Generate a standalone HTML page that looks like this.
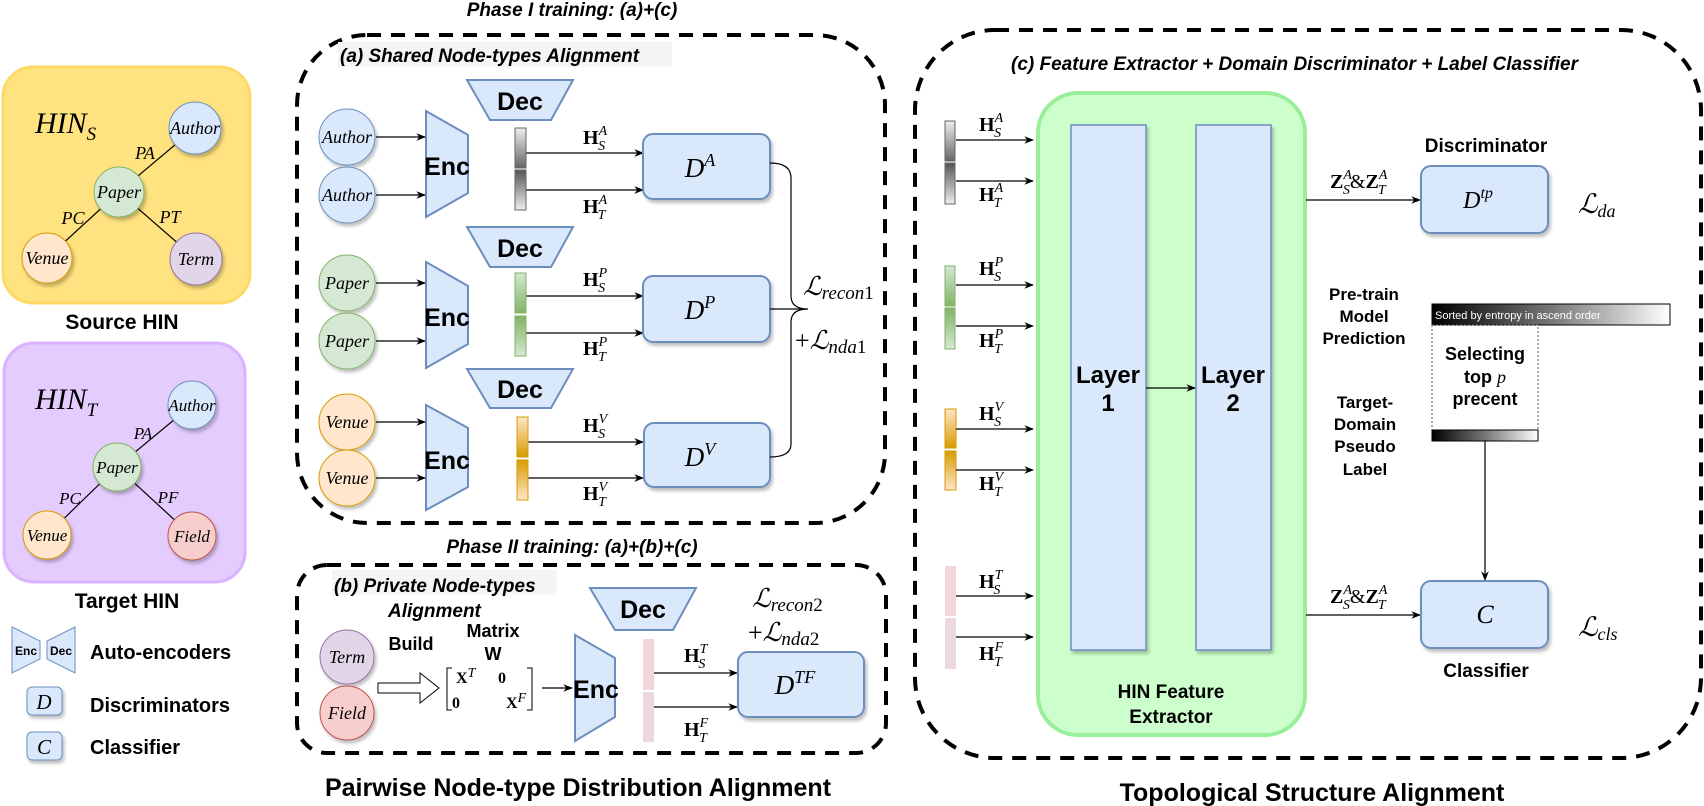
<!DOCTYPE html>
<html><head><meta charset="utf-8"><style>
html,body{margin:0;padding:0;background:#fff;}
svg{display:block;}
.b{font-family:"Liberation Sans",sans-serif;font-weight:bold;}
.bi{font-family:"Liberation Sans",sans-serif;font-weight:bold;font-style:italic;}
.m{font-family:"Liberation Serif",serif;font-style:italic;}
.h{font-family:"Liberation Serif",serif;font-weight:bold;font-size:20px;}
.s{font-family:"Liberation Serif",serif;font-style:italic;font-weight:normal;font-size:14px;}
</style></head><body>
<svg width="1704" height="806" viewBox="0 0 1704 806" xmlns="http://www.w3.org/2000/svg">
<defs>
<marker id="ar" viewBox="0 0 10 10" refX="9" refY="5" markerWidth="8" markerHeight="8" orient="auto"><path d="M0,1 L10,5 L0,9 L3,5 z" fill="#000"/></marker>
<filter id="sh" x="-10%" y="-10%" width="130%" height="140%"><feDropShadow dx="2" dy="3" stdDeviation="1.5" flood-color="#000" flood-opacity="0.25"/></filter>
<linearGradient id="gA" x1="0" y1="0" x2="0" y2="1"><stop offset="0" stop-color="#eee"/><stop offset="1" stop-color="#666"/></linearGradient>
<linearGradient id="gA2" x1="0" y1="0" x2="0" y2="1"><stop offset="0" stop-color="#555"/><stop offset="1" stop-color="#eee"/></linearGradient>
<linearGradient id="gP" x1="0" y1="0" x2="0" y2="1"><stop offset="0" stop-color="#d5e8d4"/><stop offset="1" stop-color="#82b366"/></linearGradient>
<linearGradient id="gP2" x1="0" y1="0" x2="0" y2="1"><stop offset="0" stop-color="#82b366"/><stop offset="1" stop-color="#d5e8d4"/></linearGradient>
<linearGradient id="gV" x1="0" y1="0" x2="0" y2="1"><stop offset="0" stop-color="#ffe6cc"/><stop offset="1" stop-color="#d79b00"/></linearGradient>
<linearGradient id="gV2" x1="0" y1="0" x2="0" y2="1"><stop offset="0" stop-color="#d79b00"/><stop offset="1" stop-color="#ffe6cc"/></linearGradient>
<linearGradient id="gS" x1="0" y1="0" x2="1" y2="0"><stop offset="0" stop-color="#000"/><stop offset="0.5" stop-color="#777"/><stop offset="1" stop-color="#fff"/></linearGradient>
</defs>

<!-- Source HIN -->
<rect x="3" y="67" width="247" height="236" rx="30" fill="#ffe380" stroke="#ffd966" stroke-width="3"/>
<text x="35" y="133" class="m" font-size="30">HIN<tspan font-size="19" dy="7">S</tspan></text>
<g stroke="#000" stroke-width="1.2"><line x1="195" y1="128" x2="119" y2="192"/><line x1="119" y1="192" x2="47" y2="258"/><line x1="119" y1="192" x2="196" y2="259"/></g>
<g filter="url(#sh)">
<circle cx="195" cy="128" r="26" fill="#dae8fc" stroke="#6c8ebf"/>
<circle cx="119" cy="192" r="25" fill="#d5e8d4" stroke="#82b366"/>
<circle cx="47" cy="258" r="25" fill="#ffe6cc" stroke="#d79b00"/>
<circle cx="196" cy="259" r="26" fill="#e1d5e7" stroke="#9673a6"/>
</g>
<g class="m" font-size="18" text-anchor="middle">
<text x="195" y="134">Author</text><text x="119" y="198">Paper</text><text x="47" y="264">Venue</text><text x="196" y="265">Term</text>
<text x="145" y="159">PA</text><text x="73" y="224">PC</text><text x="170" y="223">PT</text>
</g>
<text x="122" y="329" class="b" font-size="21" text-anchor="middle">Source HIN</text>

<!-- Target HIN -->
<rect x="4" y="343" width="241" height="239" rx="30" fill="#e5ccff" stroke="#d9b3ff" stroke-width="3"/>
<text x="35" y="409" class="m" font-size="30">HIN<tspan font-size="19" dy="7">T</tspan></text>
<g stroke="#000" stroke-width="1.2"><line x1="192" y1="405" x2="117" y2="467"/><line x1="117" y1="467" x2="47" y2="535"/><line x1="117" y1="467" x2="192" y2="536"/></g>
<g filter="url(#sh)">
<circle cx="192" cy="405" r="24" fill="#dae8fc" stroke="#6c8ebf"/>
<circle cx="117" cy="467" r="24" fill="#d5e8d4" stroke="#82b366"/>
<circle cx="47" cy="535" r="24" fill="#ffe6cc" stroke="#d79b00"/>
<circle cx="192" cy="536" r="24" fill="#f8cecc" stroke="#b85450"/>
</g>
<g class="m" font-size="17" text-anchor="middle">
<text x="192" y="411">Author</text><text x="117" y="473">Paper</text><text x="47" y="541">Venue</text><text x="192" y="542">Field</text>
<text x="143" y="439">PA</text><text x="70" y="504">PC</text><text x="168" y="503">PF</text>
</g>
<text x="127" y="608" class="b" font-size="21" text-anchor="middle">Target HIN</text>

<!-- Legend -->
<polygon points="12,627 40,641 40,659 12,673" fill="#dae8fc" stroke="#6c8ebf"/>
<polygon points="75,627 47,641 47,659 75,673" fill="#dae8fc" stroke="#6c8ebf"/>
<text x="26" y="655" class="b" font-size="12" text-anchor="middle">Enc</text>
<text x="61" y="655" class="b" font-size="12" text-anchor="middle">Dec</text>
<text x="90" y="659" class="b" font-size="20">Auto-encoders</text>
<rect x="27" y="687" width="35" height="28" rx="5" fill="#dae8fc" stroke="#6c8ebf" filter="url(#sh)"/>
<text x="44" y="709" class="m" font-size="21" text-anchor="middle">D</text>
<text x="90" y="712" class="b" font-size="20">Discriminators</text>
<rect x="27" y="732" width="35" height="28" rx="5" fill="#dae8fc" stroke="#6c8ebf" filter="url(#sh)"/>
<text x="44" y="754" class="m" font-size="21" text-anchor="middle">C</text>
<text x="90" y="754" class="b" font-size="20">Classifier</text>

<!-- Dashed boxes -->
<g fill="none" stroke="#000" stroke-width="4" stroke-dasharray="14 10">
<rect x="297" y="35" width="588" height="488" rx="70"/>
<rect x="297" y="565" width="589" height="188" rx="30"/>
<rect x="915" y="30" width="786" height="728" rx="80"/>
</g>
<text x="572" y="16" class="bi" font-size="19" text-anchor="middle">Phase I training: (a)+(c)</text>
<rect x="338" y="42" width="334" height="25" fill="#f5f5f5"/>
<text x="340" y="62" class="bi" font-size="19">(a) Shared Node-types Alignment</text>
<text x="572" y="553" class="bi" font-size="19" text-anchor="middle">Phase II training: (a)+(b)+(c)</text>
<text x="578" y="796" class="b" font-size="25" text-anchor="middle">Pairwise Node-type Distribution Alignment</text>

<!-- Section a rows -->
<g fill="#dae8fc" stroke="#6c8ebf" stroke-width="2">
<polygon points="467,80 573,80 551,120 490,120"/>
<polygon points="467,227 573,227 551,267 490,267"/>
<polygon points="467,369 573,369 551,408 490,408"/>
<polygon points="426,111 468,135 468,193 426,217"/>
<polygon points="426,262 468,286 468,344 426,368"/>
<polygon points="426,405 468,428 468,487 426,510"/>
</g>
<g class="b" font-size="25" text-anchor="middle">
<text x="520" y="110">Dec</text><text x="520" y="257">Dec</text><text x="520" y="398">Dec</text>
<text x="447" y="175">Enc</text><text x="447" y="326">Enc</text><text x="447" y="469">Enc</text>
</g>
<g filter="url(#sh)">
<circle cx="347" cy="137" r="28" fill="#dae8fc" stroke="#6c8ebf"/>
<circle cx="347" cy="195" r="28" fill="#dae8fc" stroke="#6c8ebf"/>
<circle cx="347" cy="283" r="28" fill="#d5e8d4" stroke="#82b366"/>
<circle cx="347" cy="341" r="28" fill="#d5e8d4" stroke="#82b366"/>
<circle cx="347" cy="422" r="28" fill="#ffe6cc" stroke="#d79b00"/>
<circle cx="347" cy="478" r="28" fill="#ffe6cc" stroke="#d79b00"/>
</g>
<g class="m" font-size="18" text-anchor="middle">
<text x="347" y="143">Author</text><text x="347" y="201">Author</text>
<text x="347" y="289">Paper</text><text x="347" y="347">Paper</text>
<text x="347" y="428">Venue</text><text x="347" y="484">Venue</text>
</g>
<g stroke="#000" stroke-width="1.2" marker-end="url(#ar)">
<line x1="376" y1="137" x2="425" y2="137"/><line x1="376" y1="195" x2="425" y2="195"/>
<line x1="376" y1="283" x2="425" y2="283"/><line x1="376" y1="341" x2="425" y2="341"/>
<line x1="376" y1="422" x2="425" y2="422"/><line x1="376" y1="478" x2="425" y2="478"/>
<line x1="526" y1="153" x2="643" y2="153"/><line x1="526" y1="190" x2="643" y2="190"/>
<line x1="526" y1="296" x2="643" y2="296"/><line x1="526" y1="333" x2="643" y2="333"/>
<line x1="526" y1="442" x2="643" y2="442"/><line x1="526" y1="478" x2="643" y2="478"/>
</g>
<rect x="515" y="128" width="11" height="40" fill="url(#gA)" stroke="#666"/>
<rect x="515" y="170" width="11" height="40" fill="url(#gA2)" stroke="#666"/>
<rect x="515" y="273" width="11" height="40" fill="url(#gP)" stroke="#82b366"/>
<rect x="515" y="316" width="11" height="40" fill="url(#gP2)" stroke="#82b366"/>
<rect x="517" y="417" width="11" height="40" fill="url(#gV)" stroke="#d79b00"/>
<rect x="517" y="460" width="11" height="40" fill="url(#gV2)" stroke="#d79b00"/>
<g fill="#dae8fc" stroke="#6c8ebf" stroke-width="2" filter="url(#sh)">
<rect x="643" y="134" width="127" height="65" rx="10"/>
<rect x="643" y="276" width="127" height="66" rx="10"/>
<rect x="644" y="423" width="126" height="64" rx="10"/>
</g>
<g class="m" font-size="27" text-anchor="middle">
<text x="700" y="177">D<tspan font-size="18" dy="-11">A</tspan></text>
<text x="700" y="319">D<tspan font-size="18" dy="-11">P</tspan></text>
<text x="700" y="466">D<tspan font-size="18" dy="-11">V</tspan></text>
</g>
<g class="h">
<text x="583" y="144">H<tspan class="s" dy="-9">A</tspan><tspan class="s" dx="-9" dy="15">S</tspan></text>
<text x="583" y="213">H<tspan class="s" dy="-9">A</tspan><tspan class="s" dx="-9" dy="15">T</tspan></text>
<text x="583" y="286">H<tspan class="s" dy="-9">P</tspan><tspan class="s" dx="-9" dy="15">S</tspan></text>
<text x="583" y="355">H<tspan class="s" dy="-9">P</tspan><tspan class="s" dx="-9" dy="15">T</tspan></text>
<text x="583" y="432">H<tspan class="s" dy="-9">V</tspan><tspan class="s" dx="-9" dy="15">S</tspan></text>
<text x="583" y="500">H<tspan class="s" dy="-9">V</tspan><tspan class="s" dx="-9" dy="15">T</tspan></text>
</g>
<path d="M770,163 Q791,163 791,178 V296 Q791,309 808,309 Q791,309 791,322 V444 Q791,457 770,457 M770,309 H808" fill="none" stroke="#000" stroke-width="1.2"/>
<text x="803" y="295" class="m" font-size="26">ℒ<tspan font-size="19" dy="4">recon</tspan><tspan font-style="normal" font-size="19">1</tspan></text>
<text x="795" y="349" class="m" font-size="26"><tspan font-style="normal">+</tspan>ℒ<tspan font-size="19" dy="4">nda</tspan><tspan font-style="normal" font-size="19">1</tspan></text>

<!-- Section b -->
<rect x="332" y="570" width="225" height="25" fill="#f5f5f5"/>
<text x="334" y="592" class="bi" font-size="19">(b) Private Node-types</text>
<text x="388" y="617" class="bi" font-size="19">Alignment</text>
<g filter="url(#sh)">
<circle cx="347" cy="657" r="27" fill="#e1d5e7" stroke="#9673a6"/>
<circle cx="347" cy="713" r="27" fill="#f8cecc" stroke="#b85450"/>
</g>
<g class="m" font-size="18" text-anchor="middle"><text x="347" y="663">Term</text><text x="347" y="719">Field</text></g>
<g class="b" font-size="18" text-anchor="middle"><text x="411" y="650">Build</text><text x="493" y="637">Matrix</text><text x="493" y="660">W</text></g>
<polygon points="378,683 420,683 420,673 439,688 420,703 420,693 378,693" fill="#fff" stroke="#000"/>
<path d="M452,668 H447 V710 H452 M527,668 H532 V710 H527" fill="none" stroke="#000"/>
<g font-family="Liberation Serif,serif" font-size="16" font-weight="bold">
<text x="456" y="683">X<tspan class="s" font-size="11" dy="-6">T</tspan></text>
<text x="498" y="683">0</text><text x="452" y="708">0</text>
<text x="506" y="708">X<tspan class="s" font-size="11" dy="-6">F</tspan></text>
</g>
<line x1="542" y1="688" x2="572" y2="688" stroke="#000" stroke-width="1.2" marker-end="url(#ar)"/>
<polygon points="575,635 615,658 615,717 575,741" fill="#dae8fc" stroke="#6c8ebf" stroke-width="2"/>
<text x="596" y="698" class="b" font-size="25" text-anchor="middle">Enc</text>
<polygon points="590,588 696,588 673,630 615,630" fill="#dae8fc" stroke="#6c8ebf" stroke-width="2"/>
<text x="643" y="618" class="b" font-size="25" text-anchor="middle">Dec</text>
<rect x="643" y="639" width="11" height="51" fill="#f3d5da"/>
<rect x="643" y="692" width="11" height="50" fill="#ecd8e0"/>
<g stroke="#000" stroke-width="1.2" marker-end="url(#ar)">
<line x1="654" y1="673" x2="737" y2="673"/><line x1="654" y1="707" x2="737" y2="707"/>
</g>
<g class="h">
<text x="684" y="662">H<tspan class="s" dy="-9">T</tspan><tspan class="s" dx="-9" dy="15">S</tspan></text>
<text x="684" y="736">H<tspan class="s" dy="-9">F</tspan><tspan class="s" dx="-9" dy="15">T</tspan></text>
</g>
<rect x="738" y="652" width="126" height="65" rx="10" fill="#dae8fc" stroke="#6c8ebf" stroke-width="2" filter="url(#sh)"/>
<text x="795" y="694" class="m" font-size="27" text-anchor="middle">D<tspan font-size="18" dy="-11">TF</tspan></text>
<text x="752" y="607" class="m" font-size="26">ℒ<tspan font-size="19" dy="4">recon</tspan><tspan font-style="normal" font-size="19">2</tspan></text>
<text x="748" y="641" class="m" font-size="26"><tspan font-style="normal">+</tspan>ℒ<tspan font-size="19" dy="4">nda</tspan><tspan font-style="normal" font-size="19">2</tspan></text>

<!-- Section c -->
<text x="1011" y="70" class="bi" font-size="19">(c) Feature Extractor + Domain Discriminator + Label Classifier</text>
<rect x="1038" y="93" width="267" height="642" rx="40" fill="#ccffcc" stroke="#99ee99" stroke-width="4"/>
<g fill="#dae8fc" stroke="#6c8ebf" stroke-width="1.5" filter="url(#sh)">
<rect x="1071" y="125" width="75" height="525"/>
<rect x="1196" y="125" width="75" height="525"/>
</g>
<g class="b" font-size="24" text-anchor="middle">
<text x="1108" y="383">Layer</text><text x="1108" y="411">1</text>
<text x="1233" y="383">Layer</text><text x="1233" y="411">2</text>
</g>
<line x1="1146" y1="388" x2="1195" y2="388" stroke="#000" stroke-width="1.2" marker-end="url(#ar)"/>
<g class="b" font-size="19" text-anchor="middle"><text x="1171" y="698">HIN Feature</text><text x="1171" y="723">Extractor</text></g>

<rect x="945" y="121" width="10" height="40" fill="url(#gA)" stroke="#666"/>
<rect x="945" y="163" width="10" height="41" fill="url(#gA2)" stroke="#666"/>
<rect x="945" y="266" width="10" height="40" fill="url(#gP)" stroke="#82b366"/>
<rect x="945" y="308" width="10" height="41" fill="url(#gP2)" stroke="#82b366"/>
<rect x="945" y="409" width="11" height="39" fill="url(#gV)" stroke="#d79b00"/>
<rect x="945" y="451" width="11" height="39" fill="url(#gV2)" stroke="#d79b00"/>
<rect x="945" y="566" width="11" height="50" fill="#f3d5da"/>
<rect x="945" y="618" width="11" height="51" fill="#ecd8e0"/>
<g stroke="#000" stroke-width="1.2" marker-end="url(#ar)">
<line x1="956" y1="140" x2="1033" y2="140"/><line x1="956" y1="181" x2="1033" y2="181"/>
<line x1="956" y1="285" x2="1033" y2="285"/><line x1="956" y1="326" x2="1033" y2="326"/>
<line x1="956" y1="429" x2="1033" y2="429"/><line x1="956" y1="470" x2="1033" y2="470"/>
<line x1="956" y1="596" x2="1033" y2="596"/><line x1="956" y1="637" x2="1033" y2="637"/>
<line x1="1306" y1="200" x2="1420" y2="200"/><line x1="1306" y1="615" x2="1420" y2="615"/>
<line x1="1485" y1="441" x2="1485" y2="580"/>
</g>
<g class="h">
<text x="979" y="131">H<tspan class="s" dy="-9">A</tspan><tspan class="s" dx="-9" dy="15">S</tspan></text>
<text x="979" y="201">H<tspan class="s" dy="-9">A</tspan><tspan class="s" dx="-9" dy="15">T</tspan></text>
<text x="979" y="275">H<tspan class="s" dy="-9">P</tspan><tspan class="s" dx="-9" dy="15">S</tspan></text>
<text x="979" y="347">H<tspan class="s" dy="-9">P</tspan><tspan class="s" dx="-9" dy="15">T</tspan></text>
<text x="979" y="420">H<tspan class="s" dy="-9">V</tspan><tspan class="s" dx="-9" dy="15">S</tspan></text>
<text x="979" y="490">H<tspan class="s" dy="-9">V</tspan><tspan class="s" dx="-9" dy="15">T</tspan></text>
<text x="979" y="588">H<tspan class="s" dy="-9">T</tspan><tspan class="s" dx="-9" dy="15">S</tspan></text>
<text x="979" y="660">H<tspan class="s" dy="-9">F</tspan><tspan class="s" dx="-9" dy="15">T</tspan></text>
</g>
<g font-family="Liberation Serif,serif" font-weight="bold" font-size="20">
<text x="1330" y="188">Z<tspan class="s" dy="-9">A</tspan><tspan class="s" dx="-9" dy="15">S</tspan><tspan dy="-6" font-weight="normal">&amp;</tspan>Z<tspan class="s" dy="-9">A</tspan><tspan class="s" dx="-9" dy="15">T</tspan></text>
<text x="1330" y="603">Z<tspan class="s" dy="-9">A</tspan><tspan class="s" dx="-9" dy="15">S</tspan><tspan dy="-6" font-weight="normal">&amp;</tspan>Z<tspan class="s" dy="-9">A</tspan><tspan class="s" dx="-9" dy="15">T</tspan></text>
</g>
<text x="1486" y="152" class="b" font-size="19" text-anchor="middle">Discriminator</text>
<rect x="1421" y="166" width="127" height="67" rx="10" fill="#dae8fc" stroke="#6c8ebf" stroke-width="2" filter="url(#sh)"/>
<text x="1478" y="208" class="m" font-size="24" text-anchor="middle">D<tspan font-size="16" dy="-10">tp</tspan></text>
<text x="1578" y="213" class="m" font-size="27">ℒ<tspan font-size="18" dy="4">da</tspan></text>
<rect x="1421" y="581" width="127" height="67" rx="10" fill="#dae8fc" stroke="#6c8ebf" stroke-width="2" filter="url(#sh)"/>
<text x="1485" y="623" class="m" font-size="26" text-anchor="middle">C</text>
<text x="1578" y="636" class="m" font-size="27">ℒ<tspan font-size="18" dy="4">cls</tspan></text>
<text x="1486" y="677" class="b" font-size="19" text-anchor="middle">Classifier</text>
<g class="b" font-size="17" text-anchor="middle">
<text x="1364" y="300">Pre-train</text><text x="1364" y="322">Model</text><text x="1364" y="344">Prediction</text>
<text x="1365" y="408">Target-</text><text x="1365" y="430">Domain</text><text x="1365" y="452">Pseudo</text><text x="1365" y="475">Label</text>
</g>
<rect x="1432" y="304" width="238" height="21" fill="url(#gS)" stroke="#000"/>
<text x="1435" y="319" font-family="Liberation Sans,sans-serif" font-size="11" fill="#fff">Sorted by entropy in ascend order</text>
<rect x="1432" y="325" width="106" height="105" fill="none" stroke="#555" stroke-dasharray="2 2"/>
<rect x="1432" y="430" width="106" height="11" fill="url(#gS)" stroke="#000"/>
<g class="b" font-size="18" text-anchor="middle">
<text x="1485" y="360">Selecting</text><text x="1485" y="383">top <tspan class="m" font-weight="normal">p</tspan></text><text x="1485" y="405">precent</text>
</g>
<text x="1312" y="801" class="b" font-size="25" text-anchor="middle">Topological Structure Alignment</text>
</svg>
</body></html>
